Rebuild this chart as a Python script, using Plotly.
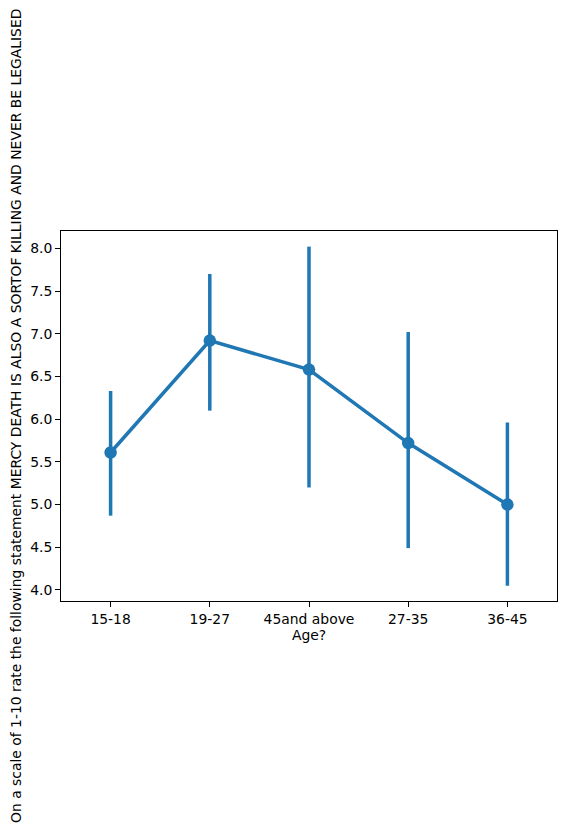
import plotly.graph_objects as go

categories = ["15-18", "19-27", "45and above", "27-35", "36-45"]
means = [5.61, 6.92, 6.58, 5.72, 5.00]
ci_low = [4.87, 6.10, 5.20, 4.49, 4.05]
ci_high = [6.33, 7.70, 8.02, 7.02, 5.96]
ytick_vals = [4.0, 4.5, 5.0, 5.5, 6.0, 6.5, 7.0, 7.5, 8.0]

color = "#1f77b4"
W, H = 567, 833
L, R, T, B = 61, 10, 231, 232

fig = go.Figure()
fig.add_trace(go.Scatter(
    x=list(range(len(categories))), y=means,
    mode="lines+markers",
    line=dict(color=color, width=3.5),
    marker=dict(color=color, size=12.5),
    error_y=dict(
        type="data", symmetric=False,
        array=[h - m for h, m in zip(ci_high, means)],
        arrayminus=[m - l for m, l in zip(means, ci_low)],
        color=color, thickness=3.5, width=0,
    ),
    showlegend=False,
))

font = dict(family="DejaVu Sans", size=13.9, color="black")
fig.update_layout(
    width=W, height=H,
    margin=dict(l=L, r=R, t=T, b=B),
    paper_bgcolor="white", plot_bgcolor="white",
    font=font,
    xaxis=dict(
        range=[-0.5, 4.5], tickmode="array",
        tickvals=list(range(len(categories))), ticktext=categories,
        showgrid=False, zeroline=False,
        ticks="outside", ticklen=5, tickcolor="black",
        showline=True, linecolor="black", linewidth=1, mirror=True,
        title=dict(text="Age?", font=font, standoff=4),
    ),
    yaxis=dict(
        range=[3.871, 8.203], tickmode="array",
        tickvals=ytick_vals, ticktext=[f"{v:.1f}" for v in ytick_vals],
        showgrid=False, zeroline=False,
        ticks="outside", ticklen=5, tickcolor="black",
        showline=True, linecolor="black", linewidth=1, mirror=True,
    ),
)

fig.add_annotation(
    text="On a scale of 1-10 rate the following statement MERCY DEATH IS ALSO A SORTOF KILLING AND NEVER BE LEGALISED",
    textangle=-90, xref="paper", yref="paper",
    x=(16 - L) / (W - L - R), y=(833 - 416 - B) / (H - T - B),
    xanchor="center", yanchor="middle",
    showarrow=False, font=font,
)

fig.write_html("out.html", config={"displayModeBar": False},
               post_script="document.body.style.margin='0';")
